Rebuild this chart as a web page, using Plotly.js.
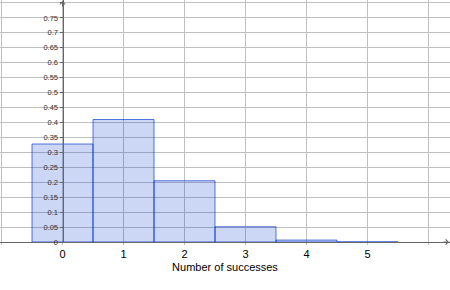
<!DOCTYPE html>
<html>
<head>
<meta charset="utf-8">
<script src="https://cdn.plot.ly/plotly-3.0.1.min.js"></script>
<style>
html, body { margin: 0; padding: 0; background: #fff; }
#chart { width: 450px; height: 290px; }
</style>
</head>
<body>
<div id="chart"></div>
<script>
// Data
var successes = [0, 1, 2, 3, 4, 5];
var probabilities = [0.328, 0.41, 0.205, 0.051, 0.0064, 0.0003];

// Tick values and labels
var xGridValues = [-1, 0, 1, 2, 3, 4, 5, 6];
var xTickLabels = ['', '0', '1', '2', '3', '4', '5', ''];
var yGridValues = [0, 0.05, 0.1, 0.15, 0.2, 0.25, 0.3, 0.35, 0.4, 0.45, 0.5, 0.55, 0.6, 0.65, 0.7, 0.75, 0.8];
var yTickLabels = ['0', '0.05', '0.1', '0.15', '0.2', '0.25', '0.3', '0.35', '0.4', '0.45', '0.5', '0.55', '0.6', '0.65', '0.7', '0.75', ''];
var xTitle = 'Number of successes';

var FONT = 'Liberation Sans, Arial, sans-serif';

var trace = {
  type: 'bar',
  x: successes,
  y: probabilities,
  width: 1,
  marker: {
    color: 'rgba(0,51,204,0.2)',
    line: { color: 'rgba(0,51,204,0.65)', width: 1 }
  },
  hoverinfo: 'none'
};

var layout = {
  width: 450,
  height: 290,
  margin: { l: 0, r: 0, t: 0, b: 48, pad: 0 },
  paper_bgcolor: '#ffffff',
  plot_bgcolor: '#ffffff',
  showlegend: false,
  font: { family: FONT, color: '#000' },
  xaxis: {
    range: [-62.5 / 61, 387.5 / 61],
    tickmode: 'array',
    tickvals: xGridValues,
    ticktext: xTickLabels,
    showgrid: true,
    gridcolor: '#c0c0c0',
    gridwidth: 1,
    zeroline: false,
    showline: true,
    linecolor: '#666666',
    linewidth: 1,
    ticks: 'outside',
    ticklen: 2,
    tickcolor: '#c0c0c0',
    tickfont: { family: FONT, size: 11, color: '#000' },
    title: { text: xTitle, font: { family: FONT, size: 11, color: '#000' }, standoff: 4 },
    automargin: false,
    fixedrange: true
  },
  yaxis: {
    range: [0, 0.81],
    anchor: 'free',
    position: 62.5 / 450,
    tickmode: 'array',
    tickvals: yGridValues,
    ticktext: yTickLabels,
    showgrid: true,
    gridcolor: '#c0c0c0',
    gridwidth: 1,
    zeroline: false,
    showline: true,
    linecolor: '#666666',
    linewidth: 1,
    ticks: 'outside',
    ticklen: 3,
    tickcolor: '#666666',
    tickfont: { family: FONT, size: 7.5, color: '#333' },
    automargin: false,
    fixedrange: true
  },
  annotations: [
    { xref: 'paper', yref: 'paper', x: 1, y: 0, ax: -8, ay: 0, axref: 'pixel', ayref: 'pixel',
      showarrow: true, arrowhead: 4, arrowsize: 1, arrowwidth: 1, arrowcolor: '#666666', text: '' },
    { xref: 'paper', yref: 'paper', x: 62.5 / 450, y: 1, ax: 0, ay: 8, axref: 'pixel', ayref: 'pixel',
      showarrow: true, arrowhead: 4, arrowsize: 1, arrowwidth: 1, arrowcolor: '#666666', text: '' }
  ]
};

Plotly.newPlot('chart', [trace], layout, { displayModeBar: false, staticPlot: true });
</script>
</body>
</html>
